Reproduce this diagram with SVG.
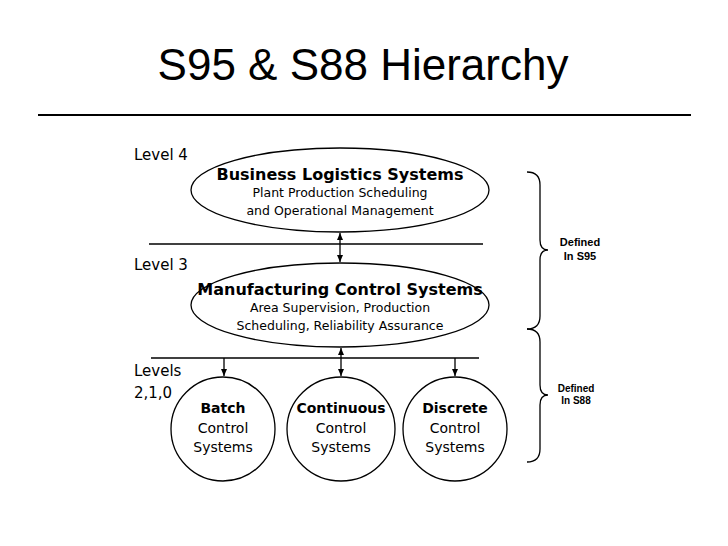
<svg xmlns="http://www.w3.org/2000/svg" width="728" height="546" viewBox="0 0 728 546">
<style>
.n{fill:#fff;stroke:#000;stroke-width:1.3}
.l{stroke:#000;stroke-width:1.3;fill:none}
.v{font-family:"DejaVu Sans",Verdana,sans-serif;fill:#000;text-anchor:middle}
.lv{font-family:"DejaVu Sans",Verdana,sans-serif;font-size:15px;fill:#000}
.a{font-family:"Liberation Sans",Arial,sans-serif;font-weight:bold;fill:#000;text-anchor:middle}
</style>
<defs><marker id="ar" markerWidth="8" markerHeight="8" refX="7" refY="4" orient="auto-start-reverse" markerUnits="userSpaceOnUse"><path d="M0,1 L7,4 L0,7 Z" fill="#000"/></marker></defs>
<rect width="728" height="546" fill="#fff"/>
<text x="363" y="80" font-family="Liberation Sans,Arial,sans-serif" font-size="44" text-anchor="middle">S95 &amp; S88 Hierarchy</text>
<line x1="38" y1="115" x2="691" y2="115" stroke="#000" stroke-width="2"/>
<text class="lv" x="134" y="160">Level 4</text>
<text class="lv" x="134" y="270">Level 3</text>
<text class="lv" x="134" y="376">Levels</text>
<text class="lv" x="134" y="398">2,1,0</text>
<g id="connectors">
<line class="l" x1="149" y1="244" x2="483" y2="244"/>
<line class="l" x1="151" y1="358" x2="479" y2="358"/>
<line class="l" x1="340" y1="233" x2="340" y2="262" marker-start="url(#ar)" marker-end="url(#ar)"/>
<line class="l" x1="341" y1="348" x2="341" y2="376" marker-start="url(#ar)" marker-end="url(#ar)"/>
<line class="l" x1="224" y1="358" x2="224" y2="376" marker-end="url(#ar)"/>
<line class="l" x1="455" y1="358" x2="455" y2="376" marker-end="url(#ar)"/>
<path class="l" d="M527,172 Q540,172 540,185 L540,240 Q540,250 548,250 Q540,250 540,260 L540,316 Q540,329 527,329"/>
<path class="l" d="M527,329 Q540,329 540,342 L540,385 Q540,395 548,395 Q540,395 540,405 L540,449 Q540,462 527,462"/>
</g>
<g id="bls"><ellipse class="n" cx="340" cy="190" rx="149" ry="42"/>
<text class="v" x="340" y="180" font-size="16" font-weight="bold">Business Logistics Systems</text>
<text class="v" x="340" y="197" font-size="12.5">Plant Production Scheduling</text>
<text class="v" x="340" y="215" font-size="12.5">and Operational Management</text></g>
<g id="mcs"><ellipse class="n" cx="340" cy="305" rx="149" ry="42"/>
<text class="v" x="340" y="295" font-size="16" font-weight="bold">Manufacturing Control Systems</text>
<text class="v" x="340" y="312" font-size="12.5">Area Supervision, Production</text>
<text class="v" x="340" y="330" font-size="12.5">Scheduling, Reliability Assurance</text></g>
<g id="batch"><ellipse class="n" cx="223" cy="429" rx="52" ry="52"/>
<text class="v" x="223" y="413" font-size="14" font-weight="bold">Batch</text>
<text class="v" x="223" y="433" font-size="14">Control</text>
<text class="v" x="223" y="452" font-size="14">Systems</text></g>
<g id="continuous"><ellipse class="n" cx="341" cy="429" rx="54" ry="52"/>
<text class="v" x="341" y="413" font-size="14" font-weight="bold">Continuous</text>
<text class="v" x="341" y="433" font-size="14">Control</text>
<text class="v" x="341" y="452" font-size="14">Systems</text></g>
<g id="discrete"><ellipse class="n" cx="455" cy="429" rx="52" ry="52"/>
<text class="v" x="455" y="413" font-size="14" font-weight="bold">Discrete</text>
<text class="v" x="455" y="433" font-size="14">Control</text>
<text class="v" x="455" y="452" font-size="14">Systems</text></g>
<g id="s95"><text class="a" x="580" y="246" font-size="11">Defined</text><text class="a" x="580" y="260" font-size="11">In S95</text></g>
<g id="s88"><text class="a" x="576" y="392" font-size="10">Defined</text><text class="a" x="576" y="404" font-size="10">In S88</text></g>
</svg>
